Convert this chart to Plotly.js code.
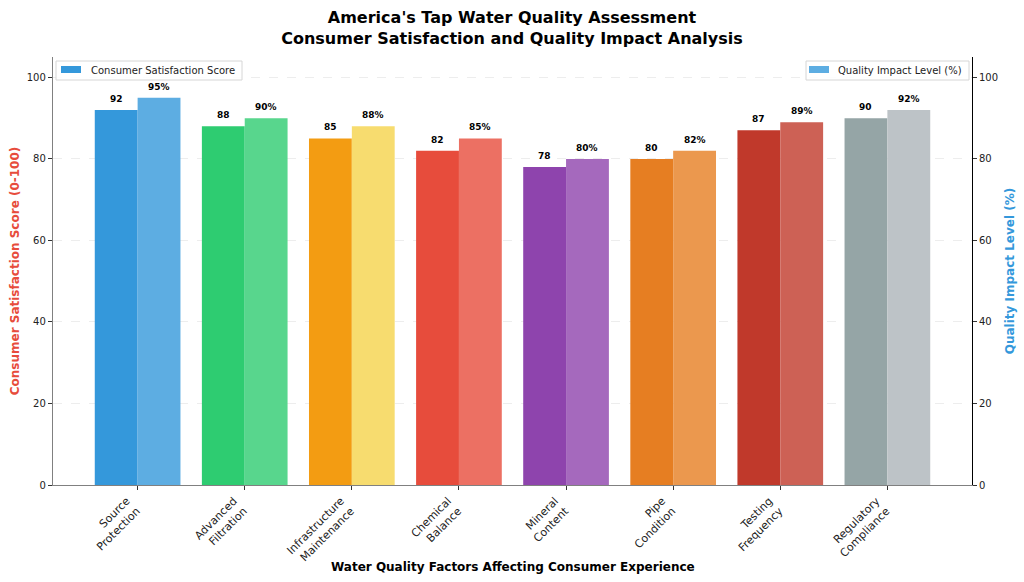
<!DOCTYPE html>
<html><head><meta charset="utf-8">
<script src="https://cdn.plot.ly/plotly-3.0.1.min.js"></script>
<style>body{margin:0;padding:0;background:#fff}#chart{width:1024px;height:582px}</style>
</head><body><div id="chart"></div>
<script>
const categories = ["Source<br>Protection","Advanced<br>Filtration","Infrastructure<br>Maintenance","Chemical<br>Balance","Mineral<br>Content","Pipe<br>Condition","Testing<br>Frequency","Regulatory<br>Compliance"];
const satisfaction = [92, 88, 85, 82, 78, 80, 87, 90];
const impact = [95, 90, 88, 85, 80, 82, 89, 92];
const satColors = ["#3498db","#2ecc71","#f39c12","#e74c3c","#8e44ad","#e67e22","#c0392b","#95a5a6"];
const impColors = ["#5dade2","#58d68d","#f7dc6f","#ec7063","#a569bd","#eb984e","#cd6155","#bdc3c7"];
const yTicks = [0, 20, 40, 60, 80, 100];
const seriesNames = ["Consumer Satisfaction Score", "Quality Impact Level (%)"];
const xTitle = "Water Quality Factors Affecting Consumer Experience";

const idx = categories.map((_, i) => i);
const bw = 0.4;
const font = "DejaVu Sans, sans-serif";

const M = {l:53, r:52, t:57, b:97};
const PW = 1024 - M.l - M.r, PH = 582 - M.t - M.b;
const px = v => (v - M.l) / PW;
const py = v => (582 - M.b - v) / PH;

const traces = [
  {type:"bar", x: idx.map(i => i - bw/2), y: satisfaction, width: bw,
   marker:{color: satColors}, showlegend:false, hoverinfo:"skip"},
  {type:"bar", x: idx.map(i => i + bw/2), y: impact, width: bw, yaxis:"y2",
   marker:{color: impColors}, showlegend:false, hoverinfo:"skip"}
];

const annotations = [];
idx.forEach(i => {
  annotations.push({x: i - bw/2, y: satisfaction[i] + 1, xref:"x", yref:"y", text: String(satisfaction[i]),
    showarrow:false, yanchor:"bottom", font:{family:font, size:9, color:"#000", weight:"bold"}});
  annotations.push({x: i + bw/2, y: impact[i] + 1, xref:"x", yref:"y2", text: impact[i] + "%",
    showarrow:false, yanchor:"bottom", font:{family:font, size:9, color:"#000", weight:"bold"}});
});

const legends = [
  {box:[56, 61, 242, 80], patch:[61, 66, 81, 73], textX:89, color: satColors[0], name: seriesNames[0]},
  {box:[806, 61, 969, 80], patch:[809, 66, 829, 73], textX:836, color: impColors[0], name: seriesNames[1]}
];
const shapes = [];
legends.forEach(L => {
  shapes.push({type:"rect", xref:"paper", yref:"paper", x0:px(L.box[0]), x1:px(L.box[2]), y0:py(L.box[3]), y1:py(L.box[1]),
    fillcolor:"rgba(255,255,255,0.85)", line:{color:"#d6d6d6", width:1}, layer:"above"});
  shapes.push({type:"rect", xref:"paper", yref:"paper", x0:px(L.patch[0]), x1:px(L.patch[2]), y0:py(L.patch[3]), y1:py(L.patch[1]),
    fillcolor:L.color, line:{width:0}, layer:"above"});
  annotations.push({xref:"paper", yref:"paper", x:px(L.textX), y:py((L.box[1]+L.box[3])/2), xanchor:"left", yanchor:"middle",
    text:L.name, showarrow:false, font:{family:font, size:10, color:"#222"}});
});

annotations.push({xref:"paper", yref:"paper", x:0.5, y:py(567), xanchor:"center", yanchor:"middle",
  text:"<b>" + xTitle + "</b>", showarrow:false, font:{family:font, size:12, color:"#000"}});

const layout = {
  width:1024, height:582,
  margin:M,
  paper_bgcolor:"#fff", plot_bgcolor:"#fff",
  font:{family:font, size:10, color:"#222"},
  showlegend:false,
  title:{text:"<b>America's Tap Water Quality Assessment<br>Consumer Satisfaction and Quality Impact Analysis</b>",
    x:0.5, xanchor:"center", yref:"container", y:0.96, yanchor:"middle", font:{family:font, size:16, color:"#000"}},
  barmode:"overlay",
  xaxis:{range:[-0.79, 7.79], tickmode:"array", tickvals: idx, ticktext: categories, tickangle:-45,
    showline:true, linecolor:"#808080", linewidth:1.2, ticks:"outside", ticklen:4, tickcolor:"#333",
    ticklabelshift:-11, automargin:false,
    showgrid:false, zeroline:false, tickfont:{family:font, size:11, color:"#222"}},
  yaxis:{range:[0,105], tickmode:"array", tickvals:yTicks, showline:true, linecolor:"#808080", linewidth:1.2,
    ticks:"outside", ticklen:4, tickcolor:"#333", showgrid:true, gridcolor:"#e8e8e8", griddash:"dash", gridwidth:0.8,
    zeroline:false, tickfont:{family:font, size:10, color:"#222"},
    title:{text:"<b>Consumer Satisfaction Score (0-100)</b>", font:{family:font, size:12, color:"#e74c3c"}, standoff:4}},
  yaxis2:{range:[0,105], overlaying:"y", side:"right", tickmode:"array", tickvals:yTicks, showline:true,
    linecolor:"#000", linewidth:1, ticks:"outside", ticklen:4, tickcolor:"#333", showgrid:false, zeroline:false,
    tickfont:{family:font, size:10, color:"#222"},
    title:{text:"<b>Quality Impact Level (%)</b>", font:{family:font, size:12, color:"#3498db"}, standoff:8}},
  shapes: shapes,
  annotations: annotations
};

Plotly.newPlot("chart", traces, layout, {displayModeBar:false, staticPlot:true});
</script></body></html>
